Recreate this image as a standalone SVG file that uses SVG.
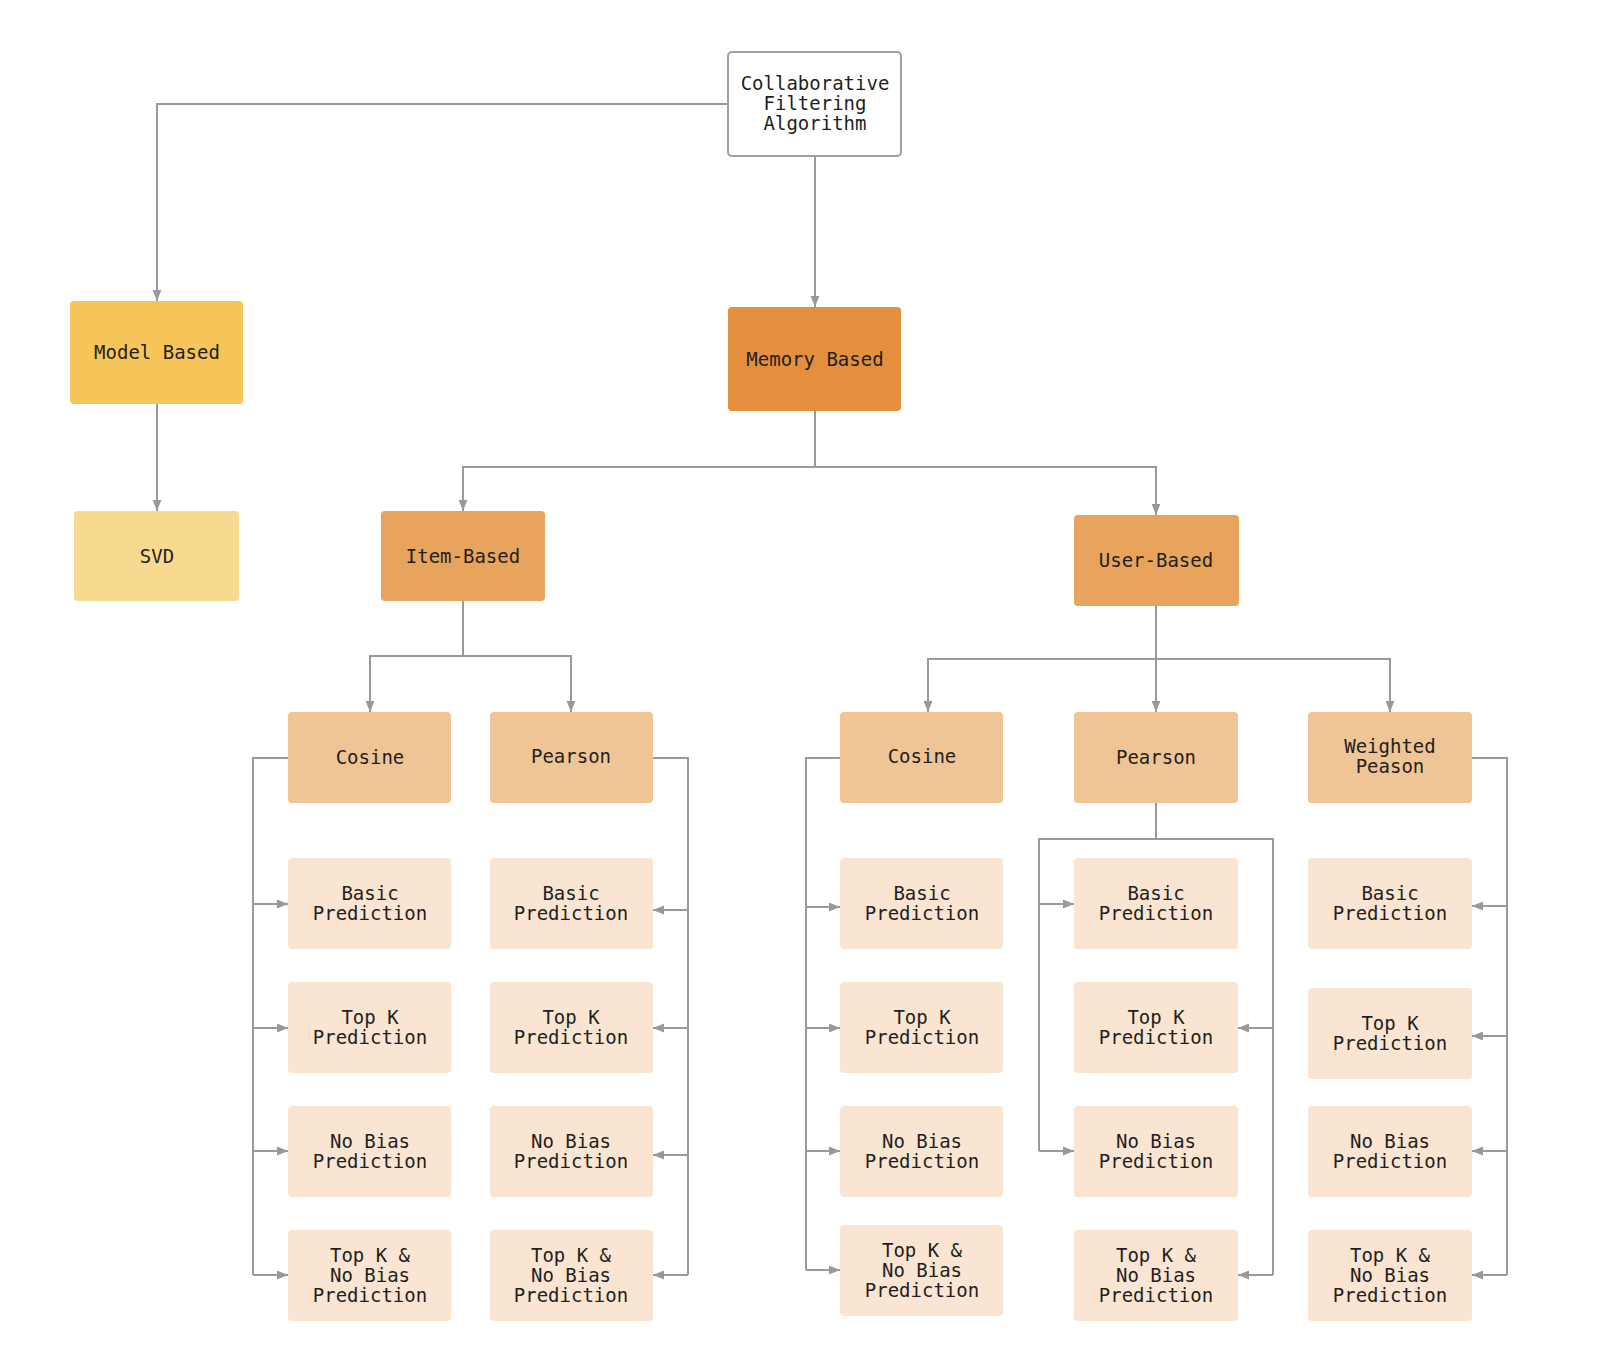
<svg xmlns="http://www.w3.org/2000/svg" width="1612" height="1348" viewBox="0 0 1612 1348">
<defs>
<marker id="a" viewBox="0 0 10 10" refX="10" refY="5" markerWidth="13" markerHeight="11" orient="auto" markerUnits="userSpaceOnUse"><path d="M0,1 L10,5 L0,9 z" fill="#999"/></marker>
<style>
.n rect{rx:4}
text{font-family:"DejaVu Sans Mono","Liberation Mono",monospace;font-size:19px;fill:#1f1f1f;text-anchor:middle}
.c path{fill:none;stroke:#9a9a9a;stroke-width:2;marker-end:url(#a)}
.c path.p{marker-end:none}
.l{fill:#f9e5d1}
.m{fill:#efc595}
</style>
</defs>
<rect width="1612" height="1348" fill="#fff"/>
<g class="c">
<path d="M728,104 H157 V301"/>
<path d="M815,156 V307"/>
<path d="M157,404 V511"/>
<path d="M815,411 V467 H463 V511"/>
<path d="M815,467 H1156 V515"/>
<path d="M463,601 V656 H370 V712"/>
<path d="M463,656 H571 V712"/>
<path d="M1156,606 V659 H928 V712"/>
<path d="M1156,659 V712"/>
<path d="M1156,659 H1390 V712"/>
<path class="p" d="M288,758 H253 V1275"/>
<path d="M253,904 H288"/><path d="M253,1028 H288"/><path d="M253,1151 H288"/><path d="M253,1275 H288"/>
<path class="p" d="M653,758 H688 V1275"/>
<path d="M688,910 H653"/><path d="M688,1028 H653"/><path d="M688,1155 H653"/><path d="M688,1275 H653"/>
<path class="p" d="M840,758 H806 V1270"/>
<path d="M806,907 H840"/><path d="M806,1028 H840"/><path d="M806,1151 H840"/><path d="M806,1270 H840"/>
<path class="p" d="M1156,803 V839 H1039 V1151"/>
<path class="p" d="M1156,839 H1273 V1275"/>
<path d="M1039,904 H1074"/><path d="M1039,1151 H1074"/>
<path d="M1273,1028 H1238"/><path d="M1273,1275 H1238"/>
<path class="p" d="M1472,758 H1507 V1275"/>
<path d="M1507,906 H1472"/><path d="M1507,1036 H1472"/><path d="M1507,1151 H1472"/><path d="M1507,1275 H1472"/>
</g>
<g id="root" class="n"><rect x="728" y="52" width="173" height="104" fill="#fff" stroke="#a0a0a0" stroke-width="2"/><text x="815" y="90">Collaborative</text><text x="815" y="110">Filtering</text><text x="815" y="130">Algorithm</text></g>
<g id="model" class="n"><rect x="70" y="301" width="173" height="103" fill="#f5c55a"/><text x="157" y="359">Model Based</text></g>
<g id="memory" class="n"><rect x="728" y="307" width="173" height="104" fill="#e38f3d"/><text x="815" y="366">Memory Based</text></g>
<g id="svd" class="n"><rect x="74" y="511" width="165" height="90" fill="#f7d98f"/><text x="157" y="563">SVD</text></g>
<g id="item" class="n"><rect x="381" y="511" width="164" height="90" fill="#e8a45c"/><text x="463" y="563">Item-Based</text></g>
<g id="user" class="n"><rect x="1074" y="515" width="165" height="91" fill="#e8a45c"/><text x="1156" y="567">User-Based</text></g>
<g id="ic" class="n"><rect class="m" x="288" y="712" width="163" height="91"/><text x="370" y="764">Cosine</text></g>
<g id="ip" class="n"><rect class="m" x="490" y="712" width="163" height="91"/><text x="571" y="763">Pearson</text></g>
<g id="uc" class="n"><rect class="m" x="840" y="712" width="163" height="91"/><text x="922" y="763">Cosine</text></g>
<g id="up" class="n"><rect class="m" x="1074" y="712" width="164" height="91"/><text x="1156" y="764">Pearson</text></g>
<g id="uw" class="n"><rect class="m" x="1308" y="712" width="164" height="91"/><text x="1390" y="753">Weighted</text><text x="1390" y="773">Peason</text></g>
<g id="ic1" class="n"><rect class="l" x="288" y="858" width="163" height="91"/><text x="370" y="900">Basic</text><text x="370" y="920">Prediction</text></g>
<g id="ic2" class="n"><rect class="l" x="288" y="982" width="163" height="91"/><text x="370" y="1024">Top K</text><text x="370" y="1044">Prediction</text></g>
<g id="ic3" class="n"><rect class="l" x="288" y="1106" width="163" height="91"/><text x="370" y="1148">No Bias</text><text x="370" y="1168">Prediction</text></g>
<g id="ic4" class="n"><rect class="l" x="288" y="1230" width="163" height="91"/><text x="370" y="1262">Top K &amp;</text><text x="370" y="1282">No Bias</text><text x="370" y="1302">Prediction</text></g>
<g id="ip1" class="n"><rect class="l" x="490" y="858" width="163" height="91"/><text x="571" y="900">Basic</text><text x="571" y="920">Prediction</text></g>
<g id="ip2" class="n"><rect class="l" x="490" y="982" width="163" height="91"/><text x="571" y="1024">Top K</text><text x="571" y="1044">Prediction</text></g>
<g id="ip3" class="n"><rect class="l" x="490" y="1106" width="163" height="91"/><text x="571" y="1148">No Bias</text><text x="571" y="1168">Prediction</text></g>
<g id="ip4" class="n"><rect class="l" x="490" y="1230" width="163" height="91"/><text x="571" y="1262">Top K &amp;</text><text x="571" y="1282">No Bias</text><text x="571" y="1302">Prediction</text></g>
<g id="uc1" class="n"><rect class="l" x="840" y="858" width="163" height="91"/><text x="922" y="900">Basic</text><text x="922" y="920">Prediction</text></g>
<g id="uc2" class="n"><rect class="l" x="840" y="982" width="163" height="91"/><text x="922" y="1024">Top K</text><text x="922" y="1044">Prediction</text></g>
<g id="uc3" class="n"><rect class="l" x="840" y="1106" width="163" height="91"/><text x="922" y="1148">No Bias</text><text x="922" y="1168">Prediction</text></g>
<g id="uc4" class="n"><rect class="l" x="840" y="1225" width="163" height="91"/><text x="922" y="1257">Top K &amp;</text><text x="922" y="1277">No Bias</text><text x="922" y="1297">Prediction</text></g>
<g id="up1" class="n"><rect class="l" x="1074" y="858" width="164" height="91"/><text x="1156" y="900">Basic</text><text x="1156" y="920">Prediction</text></g>
<g id="up2" class="n"><rect class="l" x="1074" y="982" width="164" height="91"/><text x="1156" y="1024">Top K</text><text x="1156" y="1044">Prediction</text></g>
<g id="up3" class="n"><rect class="l" x="1074" y="1106" width="164" height="91"/><text x="1156" y="1148">No Bias</text><text x="1156" y="1168">Prediction</text></g>
<g id="up4" class="n"><rect class="l" x="1074" y="1230" width="164" height="91"/><text x="1156" y="1262">Top K &amp;</text><text x="1156" y="1282">No Bias</text><text x="1156" y="1302">Prediction</text></g>
<g id="uw1" class="n"><rect class="l" x="1308" y="858" width="164" height="91"/><text x="1390" y="900">Basic</text><text x="1390" y="920">Prediction</text></g>
<g id="uw2" class="n"><rect class="l" x="1308" y="988" width="164" height="91"/><text x="1390" y="1030">Top K</text><text x="1390" y="1050">Prediction</text></g>
<g id="uw3" class="n"><rect class="l" x="1308" y="1106" width="164" height="91"/><text x="1390" y="1148">No Bias</text><text x="1390" y="1168">Prediction</text></g>
<g id="uw4" class="n"><rect class="l" x="1308" y="1230" width="164" height="91"/><text x="1390" y="1262">Top K &amp;</text><text x="1390" y="1282">No Bias</text><text x="1390" y="1302">Prediction</text></g>
</svg>
